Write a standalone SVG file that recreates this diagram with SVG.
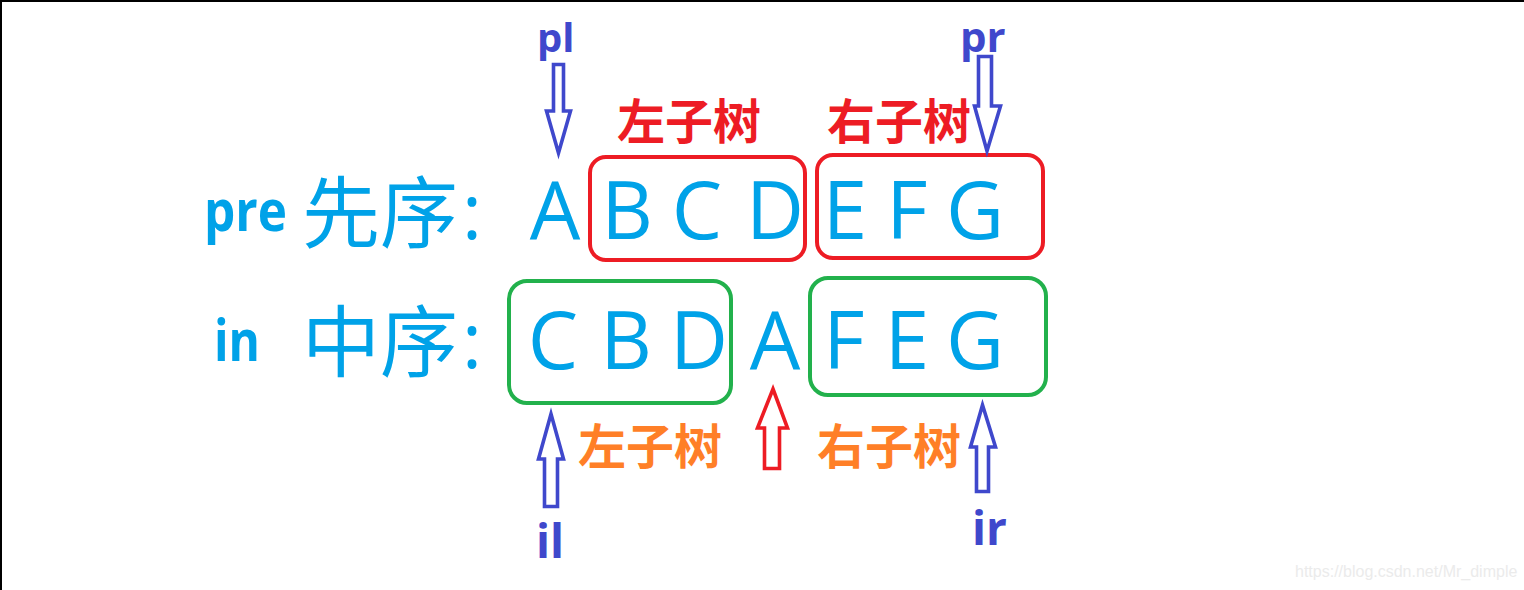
<svg xmlns="http://www.w3.org/2000/svg" width="1524" height="590" viewBox="0 0 1524 590">
<style>
.lt{font-family:"Open Sans","Noto Sans",sans-serif;font-size:80px;fill:#00a2e8;text-anchor:middle}
.cjk{font-family:"Noto Sans CJK SC",sans-serif;font-size:78px;fill:#00a2e8}
.col{font-family:"Open Sans","Noto Sans",sans-serif;font-size:76px;fill:#00a2e8;text-anchor:middle}
.lab{font-family:"Open Sans","Noto Sans",sans-serif;font-weight:700;fill:#00a2e8}
.ptr{font-family:"Open Sans","Noto Sans",sans-serif;font-weight:700;fill:#3f48cc}
.sub{font-family:"Noto Sans CJK SC",sans-serif;font-weight:700;font-size:48px}
.rbox{fill:none;stroke:#ed1c24;stroke-width:4}
.gbox{fill:none;stroke:#22b14c;stroke-width:4}
.arr{fill:#fff;stroke:#3f48cc;stroke-width:3.6;stroke-linejoin:miter}
</style>
<rect width="1524" height="590" fill="#fff"/>
<rect x="0" y="0" width="1524" height="2" fill="#000"/>
<rect x="0" y="0" width="2" height="590" fill="#000"/>

<g id="row-pre">
<text class="lab" x="204" y="231" font-size="57" textLength="83" lengthAdjust="spacingAndGlyphs">pre</text>
<text class="cjk" x="302" y="242">先序</text>
<text class="col" x="472" y="239">:</text>
<text class="lt" x="555" y="239">A</text>
</g>
<g id="pre-left">
<rect class="rbox" x="590" y="157" width="215" height="103" rx="16"/>
<text class="lt" x="627" y="239">B</text>
<text class="lt" x="697" y="239">C</text>
<text class="lt" x="775" y="239">D</text>
</g>
<g id="pre-right">
<rect class="rbox" x="817" y="155" width="226" height="103" rx="16"/>
<text class="lt" x="845" y="239">E</text>
<text class="lt" x="907" y="239">F</text>
<text class="lt" x="975" y="239">G</text>
</g>

<g id="row-in">
<text class="lab" x="214" y="361" font-size="57" textLength="46" lengthAdjust="spacingAndGlyphs">in</text>
<text class="cjk" x="302" y="371">中序</text>
<text class="col" x="472" y="368">:</text>
<text class="lt" x="775" y="369">A</text>
</g>
<g id="in-left">
<rect class="gbox" x="509" y="281" width="222" height="122" rx="18"/>
<text class="lt" x="553" y="369">C</text>
<text class="lt" x="626" y="369">B</text>
<text class="lt" x="699" y="369">D</text>
</g>
<g id="in-right">
<rect class="gbox" x="810" y="278" width="236" height="117" rx="18"/>
<text class="lt" x="844" y="369">F</text>
<text class="lt" x="907" y="369">E</text>
<text class="lt" x="975" y="369">G</text>
</g>

<g id="label-pre-left"><text class="sub" x="617" y="139" fill="#ed1c24">左子树</text></g>
<g id="label-pre-right"><text class="sub" x="827" y="139" fill="#ed1c24">右子树</text></g>
<g id="label-in-left"><text class="sub" x="578" y="464" fill="#ff7f27">左子树</text></g>
<g id="label-in-right"><text class="sub" x="817" y="464" fill="#ff7f27">右子树</text></g>

<g id="ptr-pl"><text class="ptr" x="537" y="52" font-size="40">pl</text></g>
<g id="ptr-pr"><text class="ptr" x="960" y="52" font-size="42">pr</text></g>
<g id="ptr-il"><text class="ptr" x="536" y="558" font-size="46">il</text></g>
<g id="ptr-ir"><text class="ptr" x="972" y="545" font-size="46">ir</text></g>

<g id="connectors">
<polygon class="arr" points="553.5,64.5 563.5,64.5 563.5,111 570.5,111 558.5,153 546.5,111 553.5,111"/>
<polygon class="arr" points="978.5,56.5 991.5,56.5 991.5,106 1000.5,106 987,151 974.5,106 978.5,106"/>
<polygon class="arr" points="551,414 563.5,459 557.5,459 557.5,506.5 544.5,506.5 544.5,459 538.5,459"/>
<polygon class="arr" style="stroke:#ed1c24" points="773,389 787.5,428 779.5,428 779.5,468.5 764.5,468.5 764.5,428 757.5,428"/>
<polygon class="arr" points="982.5,405 995.5,447 988.5,447 988.5,491.5 976.5,491.5 976.5,447 970.5,447"/>
</g>

<text x="1295" y="577" font-family="Liberation Sans, sans-serif" font-size="16" fill="#ebebeb">https://blog.csdn.net/Mr_dimple</text>
</svg>
